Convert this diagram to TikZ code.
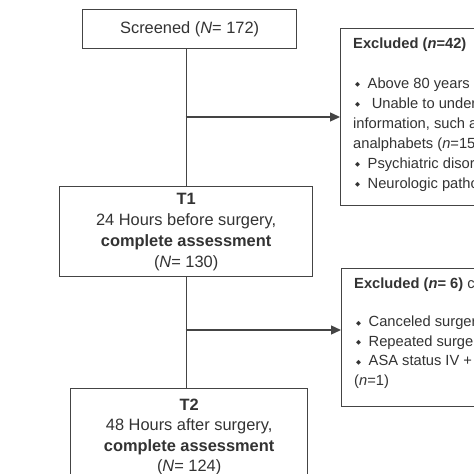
\documentclass[tikz,border=0pt]{standalone}
\usepackage{fontspec}
\setmainfont{Liberation Sans}
\newfontfamily\dejavu{DejaVu Sans}
\usetikzlibrary{arrows.meta}
\definecolor{ink}{HTML}{333333}
\definecolor{edge}{HTML}{444444}
\newcommand\dia{\makebox[14.5pt][l]{\hspace{2pt}\raisebox{1.5pt}{\fontsize{6.5}{6.5}\dejavu ◆}}}
\begin{document}
\begin{tikzpicture}[x=1pt,y=-1pt,
  font=\fontsize{16.4}{20.5}\selectfont, text=ink,
  box/.style={draw=edge, line width=1.3pt, inner sep=0pt, anchor=north west},
  arr/.style={draw=edge, line width=1.3pt, -{Triangle[length=10pt,width=9pt]}},
  ln/.style={draw=edge, line width=1.3pt},
  lst/.style={anchor=north west, align=left, inner sep=0pt}]
\useasboundingbox (0,0) rectangle (474,474);
\fill[white] (0,0) rectangle (474,474);
\clip (0,0) rectangle (474,474);
\node[box, minimum width=214pt, minimum height=39pt] (scr) at (82,9) {Screened (\textit{N}= 172)};
\node[box, minimum width=253pt, minimum height=90pt, align=center, font=\fontsize{16.4}{21}\selectfont] (t1) at (59,186)
  {\textbf{T1}\\24 Hours before surgery,\\\textbf{complete assessment}\\(\textit{N}= 130)};
\node[box, minimum width=237pt, minimum height=97pt, align=center] (t2) at (70,388)
  {\textbf{T2}\\48 Hours after surgery,\\\textbf{complete assessment}\\(\textit{N}= 124)};
\node[box, minimum width=200pt, minimum height=177pt] (ex1) at (340,28) {};
\node[box, minimum width=200pt, minimum height=138pt] (ex2) at (341,268) {};
\node[lst, font=\fontsize{14.7}{20}\selectfont] (ex1t) at (353,34)
  {\strut\textbf{Excluded (\textit{n}=42)}\\[20pt]
   \dia Above 80 years\\
   \dia\ Unable to understand\\
   information, such as\\
   analphabets (\textit{n}=15)\\
   \dia Psychiatric disorders\\
   \dia Neurologic pathology};
\node[lst, font=\fontsize{14.7}{19.5}\selectfont] (ex2t) at (354,274.35)
  {\strut\textbf{Excluded (\textit{n}= 6)} c\\[19pt]
   \dia Canceled surgery\\
   \dia Repeated surgery\\
   \dia ASA status IV + \\
   (\textit{n}=1)};
\coordinate (j1) at (185.5,117);
\coordinate (j2) at (185.5,330);
\draw[ln] (t1.north |- scr.south) -- (t1.north);
\draw[ln] (t1.south) -- (t1.south |- t2.north);
\draw[arr] (j1) -- (j1 -| ex1.west);
\draw[arr] (j2) -- (j2 -| ex2.west);
\end{tikzpicture}
\end{document}
